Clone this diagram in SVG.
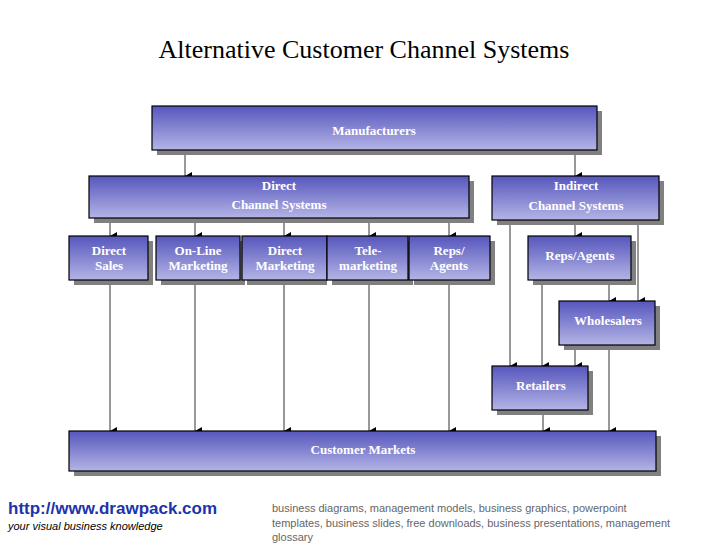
<svg xmlns="http://www.w3.org/2000/svg" width="728" height="546" viewBox="0 0 728 546">
<defs>
<linearGradient id="g" x1="0" y1="0" x2="0" y2="1"><stop offset="0" stop-color="#5656bd"/><stop offset="1" stop-color="#b4b4e6"/></linearGradient>
<marker id="a" markerWidth="8" markerHeight="8" refX="4" refY="7" orient="auto" markerUnits="userSpaceOnUse"><path d="M0,0 L8,0 L4,7 z" fill="#000"/></marker>
<style>
.s{fill:#808080}
.b{fill:url(#g);stroke:#000;stroke-width:1.2}
.t{font-family:"Liberation Serif",serif;font-weight:bold;font-size:13px;fill:#fff;text-anchor:middle}
.c line{stroke:#333;stroke-width:1;marker-end:url(#a)}
</style>
</defs>
<rect width="728" height="546" fill="#fff"/>
<text x="364" y="58" font-family="Liberation Serif,serif" font-size="26" text-anchor="middle">Alternative Customer Channel Systems</text>
<g class="c">
<line x1="185" y1="150" x2="185" y2="176"/>
<line x1="575" y1="150" x2="575" y2="176"/>
<line x1="110" y1="218" x2="110" y2="236"/>
<line x1="195" y1="218" x2="195" y2="236"/>
<line x1="284" y1="218" x2="284" y2="236"/>
<line x1="369" y1="218" x2="369" y2="236"/>
<line x1="449" y1="218" x2="449" y2="236"/>
<line x1="110" y1="280" x2="110" y2="431"/>
<line x1="195" y1="280" x2="195" y2="431"/>
<line x1="284" y1="280" x2="284" y2="431"/>
<line x1="369" y1="280" x2="369" y2="431"/>
<line x1="449" y1="280" x2="449" y2="431"/>
<line x1="575" y1="220" x2="575" y2="236"/>
<line x1="510" y1="220" x2="510" y2="366"/>
<line x1="638" y1="220" x2="638" y2="301"/>
<line x1="542" y1="280" x2="542" y2="366"/>
<line x1="609" y1="280" x2="609" y2="301"/>
<line x1="575" y1="345" x2="575" y2="366"/>
<line x1="609" y1="345" x2="609" y2="431"/>
<line x1="543" y1="410" x2="543" y2="431"/>
</g>
<g id="manufacturers"><rect class="s" x="157" y="111" width="445" height="44"/><rect class="b" x="152" y="106" width="445" height="44"/><text class="t" x="374" y="135">Manufacturers</text></g>
<g id="direct"><rect class="s" x="94" y="181" width="380" height="42"/><rect class="b" x="89" y="176" width="380" height="42"/><text class="t" x="279" y="190">Direct</text><text class="t" x="279" y="209">Channel Systems</text></g>
<g id="indirect"><rect class="s" x="497" y="181" width="167" height="44"/><rect class="b" x="492" y="176" width="167" height="44"/><text class="t" x="576" y="190">Indirect</text><text class="t" x="576" y="210">Channel Systems</text></g>
<g id="directsales"><rect class="s" x="74" y="241" width="79" height="44"/><rect class="b" x="69" y="236" width="79" height="44"/><text class="t" x="109" y="255">Direct</text><text class="t" x="109" y="270">Sales</text></g>
<g id="online"><rect class="s" x="161" y="241" width="84" height="44"/><rect class="b" x="156" y="236" width="84" height="44"/><text class="t" x="198" y="255">On-Line</text><text class="t" x="198" y="270">Marketing</text></g>
<g id="directmarketing"><rect class="s" x="247" y="241" width="80" height="44"/><rect class="b" x="242" y="236" width="85" height="44"/><text class="t" x="285" y="255">Direct</text><text class="t" x="285" y="270">Marketing</text></g>
<g id="tele"><rect class="s" x="332" y="241" width="81" height="44"/><rect class="b" x="327" y="236" width="81" height="44"/><text class="t" x="368" y="255">Tele-</text><text class="t" x="368" y="270">marketing</text></g>
<g id="reps"><rect class="s" x="414" y="241" width="81" height="44"/><rect class="b" x="409" y="236" width="81" height="44"/><text class="t" x="449" y="255">Reps/</text><text class="t" x="449" y="270">Agents</text></g>
<g id="repsagents"><rect class="s" x="533" y="241" width="103" height="44"/><rect class="b" x="528" y="236" width="103" height="44"/><text class="t" x="580" y="260">Reps/Agents</text></g>
<g id="wholesalers"><rect class="s" x="564" y="306" width="96" height="44"/><rect class="b" x="559" y="301" width="96" height="44"/><text class="t" x="608" y="325">Wholesalers</text></g>
<g id="retailers"><rect class="s" x="497" y="371" width="96" height="44"/><rect class="b" x="492" y="366" width="96" height="44"/><text class="t" x="541" y="390">Retailers</text></g>
<g id="customer"><rect class="s" x="74" y="436" width="587" height="40"/><rect class="b" x="69" y="431" width="587" height="40"/><text class="t" x="363" y="454">Customer Markets</text></g>
<text x="8" y="514" font-family="Liberation Sans,sans-serif" font-weight="bold" font-size="17" fill="#2233aa">http://www.drawpack.com</text>
<text x="8" y="530" font-family="Liberation Sans,sans-serif" font-style="italic" font-size="11" fill="#000">your visual business knowledge</text>
<g font-family="Liberation Sans,sans-serif" font-size="11" fill="#666"><text x="272" y="512">business diagrams, management models, business graphics, powerpoint</text><text x="272" y="527">templates, business slides, free downloads, business presentations, management</text><text x="272" y="541">glossary</text></g>
</svg>
